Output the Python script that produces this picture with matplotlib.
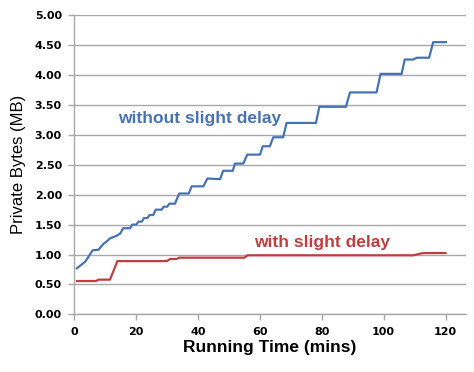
import matplotlib
matplotlib.use("Agg")
import matplotlib.pyplot as plt

# memory growth
blue_x = [0.8, 3.5, 4.5, 5.9, 7.8, 9.4, 10.5, 11.5, 13.5, 14.8, 15.8, 18.0, 18.7,
          20.0, 20.7, 21.8, 22.5, 23.6, 24.3, 25.5, 26.3, 28.2, 28.9, 30.0, 30.7,
          32.5, 33.9, 37.0, 37.9, 41.7, 43.0, 47.1, 48.1, 51.2, 51.9, 54.6, 55.9,
          60.0, 60.9, 63.2, 64.3, 67.5, 68.6, 78.1, 79.2, 87.8, 89.1, 97.7, 99.0,
          105.8, 106.8, 109.5, 110.8, 114.7, 116.0, 120.1]
blue_y = [0.77, 0.88, 0.96, 1.07, 1.08, 1.18, 1.22, 1.27, 1.31, 1.35, 1.44, 1.44, 1.50,
          1.50, 1.55, 1.55, 1.61, 1.61, 1.66, 1.66, 1.75, 1.75, 1.80, 1.80, 1.85,
          1.85, 2.02, 2.02, 2.14, 2.14, 2.27, 2.26, 2.40, 2.40, 2.52, 2.52, 2.67,
          2.67, 2.81, 2.81, 2.96, 2.96, 3.20, 3.20, 3.47, 3.47, 3.71, 3.71, 4.02,
          4.02, 4.26, 4.26, 4.29, 4.29, 4.55, 4.55]

red_x = [0.8, 7.0, 7.8, 11.5, 13.9, 29.9, 30.9, 33.0, 33.9, 54.9, 56.0, 109.5, 112.8, 120.0]
red_y = [0.557, 0.557, 0.58, 0.58, 0.89, 0.89, 0.925, 0.925, 0.947, 0.947, 0.987, 0.987, 1.025, 1.025]

xticks = [0, 20, 40, 60, 80, 100, 120]
yticks = [0.0, 0.5, 1.0, 1.5, 2.0, 2.5, 3.0, 3.5, 4.0, 4.5, 5.0]

blue = "#4673b4"
red = "#be3f3f"
grid_col = "#a8a8a8"

fig = plt.figure(figsize=(4.74, 3.72), dpi=100)
ax = fig.add_axes([0.157, 0.155, 0.826, 0.804])

ax.plot(blue_x, blue_y, color=blue, lw=1.6, zorder=3)
ax.plot(red_x, red_y, color=red, lw=1.6, zorder=3)

ax.set_xlim(0, 126.6)
ax.set_ylim(0, 5.0)
ax.set_xticks(xticks)
ax.set_yticks(yticks)
ax.set_yticklabels([f"{v:.2f}" for v in yticks])
ax.grid(axis="y", color=grid_col, lw=1.0, zorder=0)
ax.set_axisbelow(True)

for s in ["top", "right"]:
    ax.spines[s].set_visible(False)
for s in ["left", "bottom"]:
    ax.spines[s].set_color(grid_col)
    ax.spines[s].set_linewidth(1.0)
ax.tick_params(length=4, width=1.0, color=grid_col, pad=5)
for lab in ax.get_xticklabels() + ax.get_yticklabels():
    lab.set_fontweight("bold")
    lab.set_fontsize(8)
    lab.set_family("DejaVu Sans")

ax.set_xlabel("Running Time (mins)", fontsize=12.5, fontweight="bold",
              family="Liberation Sans", labelpad=2)
ax.set_ylabel("Private Bytes (MB)", fontsize=12, family="Liberation Sans",
              labelpad=6)

ax.text(40.6, 3.27, "without slight delay", color=blue, fontsize=12.5,
        fontweight="bold", family="Liberation Sans", ha="center", va="center")
ax.text(80.0, 1.20, "with slight delay", color=red, fontsize=12.5,
        fontweight="bold", family="Liberation Sans", ha="center", va="center")

fig.savefig("out.png", dpi=100)
